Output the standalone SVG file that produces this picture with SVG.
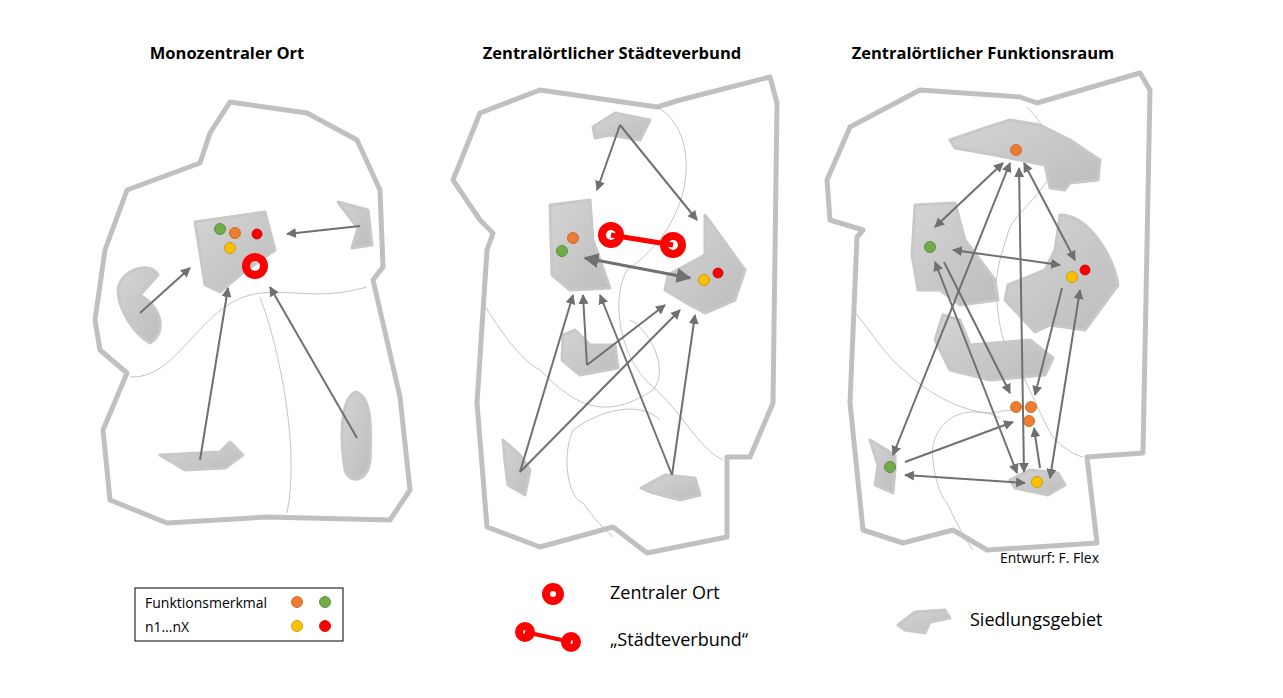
<svg xmlns="http://www.w3.org/2000/svg" width="1283" height="698" viewBox="0 0 1283 698">
<defs>
<linearGradient id="g" x1="0" y1="0" x2="1" y2="1"><stop offset="0" stop-color="#d4d4d4"/><stop offset="1" stop-color="#bdbdbd"/></linearGradient>
<marker id="a" viewBox="0 0 10 10" refX="9" refY="5" markerWidth="5" markerHeight="5" orient="auto-start-reverse"><path d="M0,0L10,5L0,10z" fill="#707070"/></marker>
<style>
.o{fill:#fff;stroke:#c0c0c0;stroke-width:5;stroke-linejoin:round}
.t{fill:none;stroke:#b5b5b5;stroke-width:0.8}
.b{fill:url(#g);stroke:#c8c8c8;stroke-width:3;stroke-linejoin:round}
.c line{stroke:#707070;stroke-width:2}
.s{marker-end:url(#a)}
.d{marker-start:url(#a);marker-end:url(#a)}
.dot{stroke-width:0.8}
.or{fill:#ed7d31;stroke:#c55a11}.gr{fill:#70ad47;stroke:#507e32}.ye{fill:#ffc000;stroke:#c09000}.re{fill:#ff0000;stroke:#c00000}
.ring{fill:none;stroke:#ff0000;stroke-width:8}
.h{font-family:"Open Sans","Liberation Sans",sans-serif;font-weight:bold;font-size:16.5px;text-anchor:middle}
.l{font-family:"Open Sans","Liberation Sans",sans-serif;font-size:18px}
.k{font-family:"Open Sans","Liberation Sans",sans-serif;font-size:14px}
</style>
</defs>
<rect width="1283" height="698" fill="#fff"/>
<text class="h" x="227" y="59">Monozentraler Ort</text>
<text class="h" x="612" y="59">Zentralörtlicher Städteverbund</text>
<text class="h" x="983" y="59">Zentralörtlicher Funktionsraum</text>

<g id="panel1">
<path class="o" d="M127,190 L200,163 L210,133 L230,102 L307,113 L357,140 L380,190 L383,267 L373,280 L400,397 L410,490 L390,520 L267,517 L167,523 L110,500 L103,430 L127,373 L100,350 L95,320 L105,250 Z"/>
<path class="t" d="M130,377 C180,380 200,300 260,293 C300,290 320,300 367,287"/>
<path class="t" d="M260,297 C280,350 300,450 287,513"/>
<path class="b" d="M195,222 L265,212 L275,250 L240,275 L220,292 L205,285 Z"/>
<path class="b" d="M118,290 C120,270 150,260 158,275 L140,295 C165,310 165,335 150,343 C135,335 118,310 118,290 Z"/>
<path class="b" d="M338,202 L368,210 L372,245 L352,248 L358,228 Z"/>
<path class="b" d="M160,455 L220,452 L230,442 L243,455 L225,468 L185,470 Z"/>
<path class="b" d="M355,392 C370,395 372,420 370,460 C368,482 350,485 345,470 C340,440 340,400 355,392 Z"/>
<circle class="dot gr" cx="220" cy="229" r="5.5"/><circle class="dot or" cx="235" cy="233" r="5.5"/><circle class="dot re" cx="257" cy="234" r="5"/><circle class="dot ye" cx="230" cy="248" r="5.5"/>
<circle class="ring" cx="255" cy="266" r="9"/>
</g>

<g id="panel2">
<path class="o" d="M453,180 L480,113 L540,90 L657,107 L680,100 L770,77 L777,103 L773,403 L750,457 L727,457 L727,537 L647,553 L613,527 L540,547 L487,527 L477,403 L487,250 L493,233 L480,220 Z"/>
<path class="t" d="M657,107 C700,130 700,220 627,270 C610,300 620,360 653,387 C680,410 700,450 723,460"/>
<path class="t" d="M483,303 C500,330 520,360 540,370 C570,400 600,425 653,390 C670,370 650,330 630,320"/>
<path class="t" d="M573,430 C560,460 570,500 583,503 C595,520 605,530 613,537 M573,430 C600,410 640,400 660,420"/>
<path class="b" d="M593,127 L615,113 L650,120 L640,140 L610,135 L595,138 Z"/>
<path class="b" d="M550,205 L590,200 L593,240 L610,288 L570,290 L552,275 Z"/>
<path class="b" d="M705,215 L745,270 L735,300 L705,313 L690,305 L665,290 L668,275 L705,255 Z"/>
<path class="b" d="M563,335 L575,330 L590,345 L615,345 L618,368 L580,375 L562,360 Z"/>
<path class="b" d="M503,440 L520,455 L530,470 L525,495 L508,485 L505,462 Z"/>
<path class="b" d="M641,488 L665,475 L695,478 L700,495 L680,500 L650,492 Z"/>
<circle class="dot or" cx="573" cy="238" r="5.5"/><circle class="dot gr" cx="562" cy="251" r="5.5"/><circle class="dot ye" cx="704" cy="280" r="5.5"/><circle class="dot re" cx="718" cy="273" r="5"/>
<line x1="611" y1="235" x2="673" y2="245" stroke="#ff0000" stroke-width="5"/>
<circle class="ring" cx="611" cy="235" r="9" fill="#fff"/><circle class="ring" cx="673" cy="245" r="9" fill="#fff"/>
</g>

<g id="panel3">
<path class="o" d="M827,180 L850,127 L920,90 L1020,97 L1037,103 L1140,73 L1150,90 L1143,453 L1087,457 L1097,543 L987,550 L953,530 L903,543 L863,530 L850,403 L857,237 L863,230 L830,220 Z"/>
<path class="t" d="M1027,107 C1050,130 1060,160 1053,170 C1040,200 1010,215 1007,237 C995,270 995,290 997,303 C1000,340 1010,360 1020,370 C1035,400 1045,425 1053,437 C1065,450 1075,455 1083,457"/>
<path class="t" d="M853,310 C870,330 885,355 903,370 C930,395 960,410 987,413 C995,413 1005,410 1013,410"/>
<path class="t" d="M953,417 C940,425 930,440 933,460 C935,480 940,495 947,503 C955,520 965,540 973,550 M953,417 C965,410 985,410 1000,418"/>
<path class="b" d="M950,140 L985,128 L1010,120 L1040,125 L1070,140 L1100,160 L1098,180 L1070,183 L1065,190 L1050,188 L1045,165 L995,155 L955,148 Z"/>
<path class="b" d="M915,205 L955,203 L965,240 L995,280 L998,300 L960,305 L940,290 L918,290 L912,255 Z"/>
<path class="b" d="M1060,215 C1090,215 1115,260 1118,285 L1085,330 L1050,325 L1035,332 L1005,300 L1008,285 L1045,270 L1055,250 Z"/>
<path class="b" d="M943,315 L960,320 L970,345 L1030,340 L1053,358 L1045,375 L990,380 L950,370 L935,340 Z"/>
<path class="b" d="M870,440 L895,455 L895,470 L893,493 L875,485 L878,465 Z"/>
<path class="b" d="M1010,480 L1030,470 L1058,473 L1065,485 L1048,495 L1015,488 Z"/>
<circle class="dot or" cx="1016" cy="150" r="5.5"/><circle class="dot gr" cx="930" cy="247" r="5.5"/><circle class="dot ye" cx="1072" cy="277" r="5.5"/><circle class="dot re" cx="1085" cy="270" r="5"/>
<circle class="dot or" cx="1016" cy="407" r="5.5"/><circle class="dot or" cx="1031" cy="407" r="5.5"/><circle class="dot or" cx="1029" cy="421" r="5.5"/>
<circle class="dot gr" cx="890" cy="467" r="5.5"/><circle class="dot ye" cx="1037" cy="482" r="5.5"/>
<text class="k" x="1000" y="563">Entwurf: F. Flex</text>
</g>

<g id="connectors" class="c">
<line class="s" x1="140" y1="313" x2="190" y2="268"/>
<line class="s" x1="360" y1="226" x2="287" y2="234"/>
<line class="s" x1="200" y1="460" x2="228" y2="288"/>
<line class="s" x1="357" y1="438" x2="270" y2="287"/>
<line class="s" x1="620" y1="125" x2="597" y2="190"/>
<line class="s" x1="620" y1="125" x2="697" y2="220"/>
<line class="d" x1="585" y1="258" x2="690" y2="278" style="stroke-width:3"/>
<line class="s" x1="520" y1="472" x2="573" y2="295"/>
<line class="s" x1="520" y1="472" x2="680" y2="310"/>
<line class="s" x1="587" y1="365" x2="583" y2="295"/>
<line class="s" x1="587" y1="365" x2="665" y2="305"/>
<line class="s" x1="672" y1="475" x2="600" y2="295"/>
<line class="s" x1="672" y1="475" x2="695" y2="315"/>
<line class="d" x1="1003" y1="163" x2="935" y2="227"/>
<line class="d" x1="1010" y1="163" x2="893" y2="455"/>
<line class="d" x1="1019" y1="168" x2="1024" y2="472"/>
<line class="d" x1="1024" y1="163" x2="1075" y2="260"/>
<line class="d" x1="953" y1="250" x2="1060" y2="265"/>
<line class="s" x1="1062" y1="288" x2="1035" y2="395"/>
<line class="s" x1="944" y1="262" x2="1010" y2="393"/>
<line class="d" x1="935" y1="262" x2="1017" y2="473"/>
<line class="s" x1="905" y1="462" x2="1013" y2="422"/>
<line class="d" x1="905" y1="475" x2="1025" y2="483"/>
<line class="d" x1="1080" y1="290" x2="1050" y2="478"/>
<line class="s" x1="1040" y1="468" x2="1034" y2="428"/>
</g>

<g id="legend">
<rect x="135" y="588" width="208" height="53" fill="#fff" stroke="#000" stroke-width="1"/>
<text class="k" x="145" y="608">Funktionsmerkmal</text>
<text class="k" x="145" y="632">n1…nX</text>
<circle class="dot or" cx="297" cy="602" r="5.5"/><circle class="dot gr" cx="325" cy="602" r="5.5"/><circle class="dot ye" cx="297" cy="626" r="5.5"/><circle class="dot re" cx="325" cy="626" r="5.5"/>
<circle class="ring" cx="553" cy="594" r="7" stroke-width="6"/>
<text class="l" x="610" y="599">Zentraler Ort</text>
<line x1="525" y1="632" x2="571" y2="642" stroke="#ff0000" stroke-width="4"/>
<circle class="ring" cx="525" cy="632" r="6" stroke-width="5" fill="#fff"/><circle class="ring" cx="571" cy="642" r="6" stroke-width="5" fill="#fff"/>
<text class="l" x="610" y="646">„Städteverbund“</text>
<path class="b" d="M898,625 L915,612 L945,610 L950,618 L930,622 L925,633 L905,630 Z"/>
<text class="l" x="970" y="626">Siedlungsgebiet</text>
</g>
</svg>
